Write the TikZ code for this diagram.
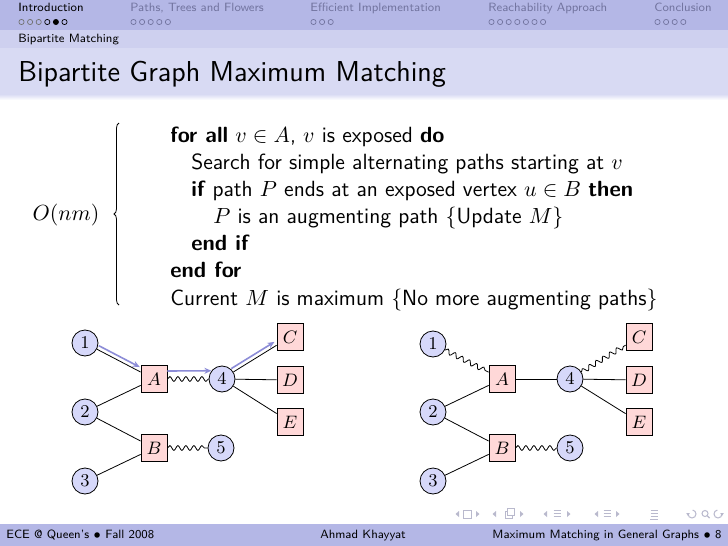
\documentclass[tikz,border=0pt]{standalone}
\usetikzlibrary{decorations.pathmorphing,decorations.pathreplacing,arrows.meta}
\usepackage{amssymb}
\definecolor{hdr}{RGB}{180,183,230}
\definecolor{subband}{RGB}{206,208,239}
\definecolor{ttlband}{RGB}{216,218,243}
\definecolor{circfill}{RGB}{214,216,250}
\definecolor{boxfill}{RGB}{255,216,216}
\definecolor{pathblue}{RGB}{140,140,215}
\definecolor{fadetext}{RGB}{115,117,160}
\definecolor{navgray}{RGB}{185,185,205}
\tikzset{
  circnode/.style={circle,draw,fill=circfill,minimum size=13pt,inner sep=0pt,line width=0.4pt,font=\fontsize{9}{10}\selectfont},
  boxnode/.style={rectangle,draw,fill=boxfill,minimum width=13pt,minimum height=13.5pt,inner sep=0pt,line width=0.4pt,font=\fontsize{9}{10}\selectfont},
  plainedge/.style={draw,line width=0.4pt},
  wavyedge/.style={draw,line width=0.4pt,decorate,decoration={snake,amplitude=1.2pt,segment length=4pt}},
  bluepath/.style={draw=pathblue,line width=0.8pt,-{Stealth[length=3.5pt,width=3pt]}},
  algline/.style={anchor=base west,inner sep=0pt,font=\sffamily\fontsize{11}{13}\selectfont},
  hdrtext/.style={anchor=base west,inner sep=0pt,font=\sffamily\fontsize{6}{7}\selectfont},
  foottext/.style={inner sep=0pt,font=\sffamily\fontsize{6}{7}\selectfont},
  minif/.style={line width=0.35pt},
  navline/.style={draw=navgray,line width=0.5pt},
}
\begin{document}
\begin{tikzpicture}[x=0.5pt,y=-0.5pt]
\useasboundingbox (0,0) rectangle (728,546);
\fill[white] (0,0) rectangle (728,546);
% header bands
\fill[hdr] (0,0) rectangle (728,30);
\fill[subband] (0,30) rectangle (728,48);
\fill[ttlband] (0,48) rectangle (728,94);
\shade[top color=ttlband,bottom color=white] (0,94) rectangle (728,100);
% section names
\node[hdrtext] (s1) at (18,11) {Introduction};
\node[hdrtext,text=fadetext] (s2) at (130,11) {Paths, Trees and Flowers};
\node[hdrtext,text=fadetext] (s3) at (310,11) {Efficient Implementation};
\node[hdrtext,text=fadetext] (s4) at (488,11) {Reachability Approach};
\node[hdrtext,text=fadetext] (s5) at (654,11) {Conclusion};
% mini frames
\foreach \i in {0,1,2} \draw[minif,draw=black!55] (21.5+\i*8.6,22) circle (2.6);
\draw[minif,draw=black] (21.5+3*8.6,22) circle (2.6);
\fill[black] (21.5+4*8.6,22) circle (3.0);
\draw[minif,draw=black] (21.5+5*8.6,22) circle (2.6);
\foreach \i in {0,...,4} \draw[minif,draw=fadetext] (133.5+\i*8.6,22) circle (2.6);
\foreach \i in {0,...,2} \draw[minif,draw=fadetext] (313.5+\i*8.6,22) circle (2.6);
\foreach \i in {0,...,6} \draw[minif,draw=fadetext] (491.5+\i*8.6,22) circle (2.6);
\foreach \i in {0,...,3} \draw[minif,draw=fadetext] (657.5+\i*8.6,22) circle (2.6);
\node[hdrtext] (subsec) at (18,42) {Bipartite Matching};
% title
\node[anchor=base west,inner sep=0pt,font=\sffamily\fontsize{14.4}{17}\selectfont] (title) at (18,81) {Bipartite Graph Maximum Matching};
% algorithm
\node[algline] (l1) at (170,142) {\textbf{for all} $v\in A$, $v$ is exposed \textbf{do}};
\node[algline] (l2) at (191,169) {Search for simple alternating paths starting at $v$};
\node[algline] (l3) at (191,196) {\textbf{if} path $P$ ends at an exposed vertex $u\in B$ \textbf{then}};
\node[algline] (l4) at (213,223) {$P$ is an augmenting path $\{$Update $M\}$};
\node[algline] (l5) at (191,250) {\textbf{end if}};
\node[algline] (l6) at (170,277) {\textbf{end for}};
\node[algline] (l7) at (170,305) {Current $M$ is maximum $\{$No more augmenting paths$\}$};
\coordinate (brtop) at (119,123);
\coordinate (brbot) at (119,305);
\draw[line width=0.4pt,decorate,decoration={brace,amplitude=2.5pt}] (brbot) -- (brtop);
\node[inner sep=0pt,font=\fontsize{11}{13}\selectfont] (cost) at (66,215) {$O(nm)$};
% left graph
\node[circnode] (a1) at (85,343) {$1$};
\node[circnode] (a2) at (85,412) {$2$};
\node[circnode] (a3) at (85,481) {$3$};
\node[boxnode] (aA) at (154,379) {$A$};
\node[boxnode] (aB) at (154,448) {$B$};
\node[circnode] (a4) at (222,379) {$4$};
\node[circnode] (a5) at (221,448) {$5$};
\node[boxnode] (aC) at (290,337) {$C$};
\node[boxnode] (aD) at (290,380) {$D$};
\node[boxnode] (aE) at (290,422) {$E$};
\draw[plainedge] (a1) -- (aA);
\draw[plainedge] (a2) -- (aA);
\draw[plainedge] (a2) -- (aB);
\draw[plainedge] (a3) -- (aB);
\draw[wavyedge] (aA) -- (a4);
\draw[wavyedge] (aB) -- (a5);
\draw[plainedge] (a4) -- (aC);
\draw[plainedge] (a4) -- (aD);
\draw[plainedge] (a4) -- (aE);
\draw[bluepath,shorten >=1.5pt,transform canvas={shift={(1.85,-3.55)}}] (a1) -- (aA);
\draw[bluepath] ([yshift=4pt]aA.east) -- (a4.142);
\draw[bluepath,transform canvas={shift={(-2.1,-3.4)}}] (a4) -- (aC);
% right graph
\node[circnode] (b1) at (433,344) {$1$};
\node[circnode] (b2) at (433,412) {$2$};
\node[circnode] (b3) at (433,481) {$3$};
\node[boxnode] (bA) at (502,379) {$A$};
\node[boxnode] (bB) at (502,448) {$B$};
\node[circnode] (b4) at (570,379) {$4$};
\node[circnode] (b5) at (570,448) {$5$};
\node[boxnode] (bC) at (639,337) {$C$};
\node[boxnode] (bD) at (639,380) {$D$};
\node[boxnode] (bE) at (639,422) {$E$};
\draw[wavyedge] (b1) -- (bA);
\draw[plainedge] (b2) -- (bA);
\draw[plainedge] (b2) -- (bB);
\draw[plainedge] (b3) -- (bB);
\draw[plainedge] (bA) -- (b4);
\draw[wavyedge] (bB) -- (b5);
\draw[wavyedge] (b4) -- (bC);
\draw[plainedge] (b4) -- (bD);
\draw[plainedge] (b4) -- (bE);
% navigation symbols
\foreach \x in {457,494,545,596} \fill[navgray] (\x+2,511) -- (\x+2,517) -- (\x-1.5,514) -- cycle;
\foreach \x in {478,522,569,618} \fill[navgray] (\x-2,511) -- (\x-2,517) -- (\x+1.5,514) -- cycle;
\draw[navline] (463,510) rectangle (471,518);
\draw[navline] (505,511) rectangle (512,518);
\draw[navline,fill=white] (507.5,508.5) rectangle (514.5,515.5);
\foreach \x in {557,607,654} {
  \draw[navline] (\x-3.5,510) -- (\x+3.5,510);
  \draw[navline] (\x-3.5,513) -- (\x+3.5,513);
  \draw[navline] (\x-3.5,516) -- (\x+3.5,516);
}
\draw[navline] (650,519) -- (658,519);
\coordinate (undoc) at (692,514);
\coordinate (findc) at (705,513.5);
\coordinate (redoc) at (718,514);
\draw[navline] ([shift={(-4,0)}]undoc) arc[start angle=180,end angle=-80,radius=4];
\fill[navgray] ([shift={(-5.8,-1)}]undoc) -- ([shift={(-2.2,-1)}]undoc) -- ([shift={(-4,2)}]undoc) -- cycle;
\draw[navline] (findc) circle (3);
\draw[draw=navgray,line width=0.7pt] ([shift={(2.2,2.2)}]findc) -- ([shift={(4.5,4.5)}]findc);
\draw[navline] ([shift={(4,0)}]redoc) arc[start angle=0,end angle=260,radius=4];
\fill[navgray] ([shift={(5.8,-1)}]redoc) -- ([shift={(2.2,-1)}]redoc) -- ([shift={(4,2)}]redoc) -- cycle;
% footer
\fill[hdr] (0,524) rectangle (728,546);
\node[foottext,anchor=base west] (f1) at (6,538) {ECE @ Queen's $\bullet$ Fall 2008};
\node[foottext,anchor=base] (f2) at (363,538) {Ahmad Khayyat};
\node[foottext,anchor=base east] (f3) at (722,538) {Maximum Matching in General Graphs $\bullet$ 8};
\end{tikzpicture}
\end{document}
